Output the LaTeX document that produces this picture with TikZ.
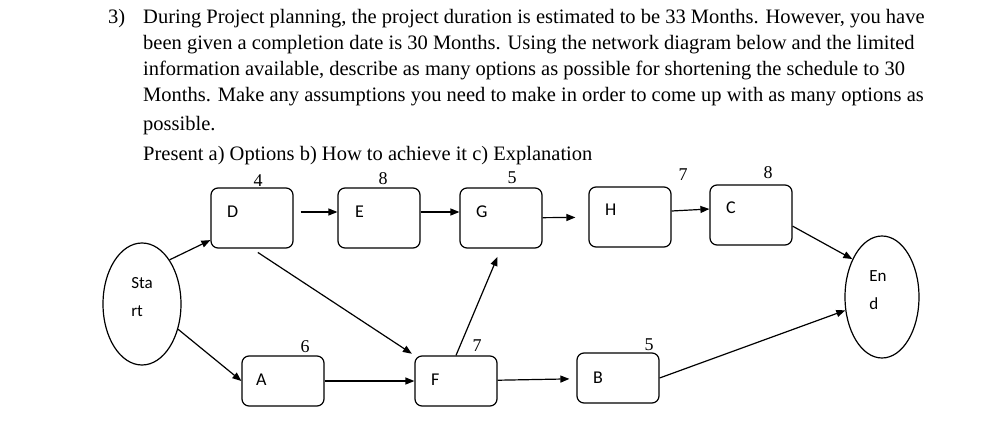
\documentclass[tikz,border=0pt]{standalone}
\usepackage{fontspec}
\setmainfont{Liberation Serif}
\newfontfamily\boxfont{Carlito}
\usetikzlibrary{arrows.meta}
\usetikzlibrary{shapes.geometric}
\usetikzlibrary{positioning}

\begin{document}
\begin{tikzpicture}[x=1pt,y=-1pt]
	\useasboundingbox (0,0) rectangle (1005,441);
	\tikzset{qline/.style={anchor=base west, inner sep=0pt, font=\fontsize{20.5}{24}\selectfont},
	         task/.style={draw, rounded corners=7pt, line width=1.2pt, minimum width=82pt, minimum height=60pt, inner sep=0pt},
	         tlabel/.style={anchor=base west, inner sep=0pt, font=\boxfont\fontsize{18}{20}\selectfont},
	         dur/.style={anchor=base, inner sep=0pt, font=\fontsize{18}{20}\selectfont},
	         term/.style={draw, ellipse, line width=1.2pt, inner sep=0pt, align=left, font=\boxfont\fontsize{17}{28}\selectfont},
	         arr/.style={-{Triangle[length=9pt,width=7pt]}, line width=1.2pt}}

	% question text
	\node[qline] (q0) at (108,24) {3)};
	\node[qline] (q1) at (143,24) {During Project planning, the project duration is estimated to be 33 Months. However, you have};
	\node[qline] (q2) at (143,50) {been given a completion date is 30 Months. Using the network diagram below and the limited};
	\node[qline] (q3) at (143,76) {information available, describe as many options as possible for shortening the schedule to 30};
	\node[qline] (q4) at (143,102) {Months. Make any assumptions you need to make in order to come up with as many options as};
	\node[qline] (q5) at (143,131) {possible.};
	\node[qline] (q6) at (143,161) {Present a) Options b) How to achieve it c) Explanation};

	% activities
	\begin{scope}
		\node[task] (D) at (252,218) {};
		\node[task] (E) at (379,218) {};
		\node[task] (G) at (501,218) {};
		\node[task] (H) at (630,217) {};
		\node[task] (C) at (751,215) {};
		\node[task, minimum height=50pt] (A) at (283,381) {};
		\node[task, minimum height=50pt] (F) at (456,381) {};
		\node[task, minimum height=50pt] (B) at (618,378) {};
		\node[term, minimum width=78pt, minimum height=122pt] (Start) at (142,304) {};
		\node[term, minimum width=74pt, minimum height=122pt] (End) at (882,297) {};
	\end{scope}
	\node[term, draw=none] (tStart) at (142,297) {Sta\\rt};
	\node[term, draw=none] (tEnd) at (878,290) {En\\d};

	\foreach \n/\x/\y in {D/227/218, E/355/218, G/476/218, H/605/215, C/726/214, A/256/385, F/431/385, B/593/383}
		\node[tlabel] (l\n) at (\x,\y) {\n};

	\foreach \n/\v/\x/\y in {D/4/258/187, E/8/383/185, G/5/512/184, H/7/683/181, C/8/768/179, A/6/305/352, F/7/477/351, B/5/649/350}
		\node[dur] (d\n) at (\x,\y) {\v};

	% precedence
	\draw[arr] (Start.58) -- (D.208);
	\draw[arr, shorten <=7pt] ([yshift=6pt]D.east) -- ([yshift=6pt]E.west);
	\draw[arr] ([yshift=6pt]E.east) -- ([yshift=6pt]G.west);
	\draw[arr, shorten >=13pt] (G) -- (H);
	\draw[arr] ([yshift=6pt]H.east) -- ([yshift=6pt]C.west);
	\draw[arr] (C.345) -- (End.128);
	\draw[arr, shorten <=7pt, shorten >=3pt] (D.south) -- (F.north west);
	\draw[arr, shorten >=9pt] (F.north) -- (G.south);
	\draw[arr] (Start.-35) -- (A.west);
	\draw[arr] (A) -- (F);
	\draw[arr, shorten >=7pt] (F) -- (B);
	\draw[arr] (B.east) -- (End.-160);
\end{tikzpicture}
\end{document}
